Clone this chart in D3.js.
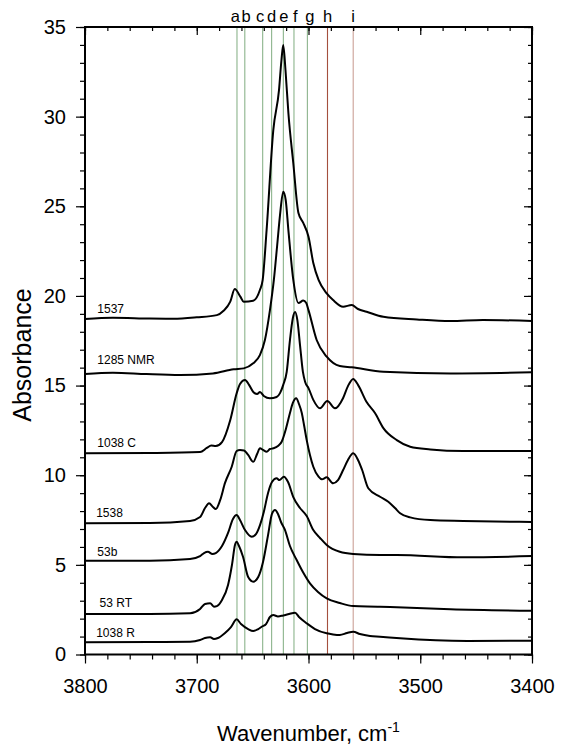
<!DOCTYPE html>
<html><head><meta charset="utf-8">
<script src="https://cdn.jsdelivr.net/npm/d3@7"></script>
<style>
body{margin:0;background:#fff}
svg{display:block}
text{font-family:"Liberation Sans",Arial,Helvetica,sans-serif;fill:#000}
</style>
</head><body>
<svg id="chart" width="568" height="750"></svg>
<script>
// ---------- DATA ----------
const sampleNames = ["1537", "1285 NMR", "1038 C", "1538", "53b", "53 RT", "1038 R"];
const labelWn = [3789, 3789, 3789, 3790, 3789, 3787, 3790];
const labelA  = [19.03, 16.2, 11.59, 7.69, 5.51, 2.67, 0.99];

const s1537 = [[3800,18.71],[3775,18.78],[3742,18.74],[3721,18.73],[3700,18.81],[3682,18.93],[3676,19.17],[3670,19.68],[3666,20.38],[3661,19.96],[3658,19.68],[3649.5,19.73],[3643.5,20.33],[3641,20.89],[3637.5,23.67],[3631.5,29.25],[3626.4,31.48],[3624.2,33.16],[3622.6,33.99],[3620.6,32.6],[3618,30.2],[3613.6,27.4],[3609,24.62],[3604.7,24.07],[3600,23.3],[3595.7,21.84],[3591,20.89],[3583.7,20.14],[3578,19.77],[3569,19.4],[3561.3,19.49],[3555.7,19.27],[3548,19.12],[3533,18.84],[3503,18.69],[3473,18.6],[3444,18.66],[3400,18.6]];

const s1285 = [[3800,15.64],[3775,15.72],[3745,15.64],[3715,15.59],[3685.5,15.68],[3667,15.91],[3658,15.96],[3649.5,16.24],[3643.5,16.7],[3639,17.54],[3634.5,19.21],[3631,20.89],[3628,22.84],[3625.5,24.51],[3622.6,25.81],[3620.4,25.35],[3618,23.67],[3613.6,20.89],[3609,19.6],[3604.7,19.74],[3602,19.6],[3600,19.21],[3592.7,17.54],[3583.7,16.61],[3572,16.09],[3561.3,16.02],[3533,15.77],[3473,15.68],[3400,15.74]];

const s1038C = [[3800,11.22],[3742,11.24],[3697,11.29],[3691,11.52],[3687,11.66],[3683,11.63],[3677.4,11.85],[3670,13.08],[3664.3,14.57],[3661.3,15.09],[3656.8,15.31],[3653.2,15.04],[3649.4,14.64],[3646,14.53],[3643.4,14.64],[3640,14.42],[3634.5,14.29],[3628.5,14.36],[3625.5,14.58],[3622.6,15.04],[3619.5,15.76],[3616.6,17.54],[3614,18.77],[3612,19.1],[3610,18.66],[3607.6,17.26],[3605,15.76],[3603,15.2],[3600,14.86],[3595.7,14.2],[3589.7,13.73],[3583.2,14.14],[3576.3,13.73],[3569,14.31],[3564.7,14.97],[3560,15.37],[3555.7,15.04],[3548,14.08],[3540.5,13.47],[3533,12.63],[3521,11.96],[3509,11.59],[3491,11.44],[3461.5,11.35],[3400,11.35]];

const s1538 = [[3800,7.32],[3742,7.33],[3706,7.45],[3697,7.67],[3692.6,8.17],[3689,8.43],[3685.5,8.23],[3683,8.11],[3679,8.62],[3674.7,9.57],[3668.7,10.47],[3664.3,11.35],[3661.3,11.41],[3657.7,11.38],[3654,11.13],[3649.4,10.75],[3646,11.18],[3643.4,11.5],[3640.7,11.41],[3637.4,11.31],[3634.5,11.46],[3631.5,11.5],[3627.3,11.63],[3624,11.87],[3620,12.63],[3616.6,13.47],[3614,14.03],[3611,14.29],[3608.5,13.97],[3606,13.47],[3604,12.8],[3601.6,11.96],[3598.7,11.13],[3595.7,10.47],[3591,9.92],[3588,9.77],[3583.7,9.88],[3578,9.55],[3573.6,9.73],[3569,10.29],[3564.7,10.85],[3560,11.22],[3555.7,10.85],[3552,10.29],[3546.5,9.27],[3536,8.8],[3528.6,8.52],[3522.6,8.17],[3518,7.88],[3509,7.65],[3491,7.5],[3461.5,7.45],[3400,7.39]];

const s53b = [[3800,5.23],[3742,5.23],[3706,5.33],[3697,5.49],[3693.5,5.66],[3690,5.73],[3686,5.61],[3683,5.66],[3677.4,6.05],[3672,6.78],[3667.6,7.56],[3664.3,7.78],[3661.3,7.5],[3656.8,6.94],[3650.8,6.57],[3647,6.72],[3643.4,7.22],[3640,7.95],[3636.2,9.01],[3632.7,9.62],[3628.5,9.83],[3626,9.73],[3622,9.92],[3618.3,9.62],[3613.6,8.78],[3607.6,8.17],[3601.6,7.72],[3595.7,6.94],[3589.7,6.5],[3583.7,6.11],[3572,5.73],[3560,5.61],[3536,5.55],[3521,5.55],[3461.5,5.42],[3400,5.49]];

const s53RT = [[3800,2.26],[3742,2.26],[3706,2.3],[3697,2.54],[3692.6,2.82],[3688,2.86],[3684.6,2.67],[3682,2.7],[3677.4,3.04],[3672,3.88],[3668.5,4.99],[3665.8,6.11],[3664.3,6.29],[3662.2,6.05],[3658.6,5.45],[3654,4.32],[3649.4,4.06],[3645,4.32],[3640.7,5.16],[3636.2,6.66],[3632.7,7.84],[3630,8.06],[3627.3,7.84],[3624.6,7.39],[3621,6.94],[3616.6,6.05],[3610.6,5.27],[3605,4.6],[3598.7,3.97],[3591.5,3.49],[3583.7,3.13],[3572,2.87],[3560,2.7],[3536,2.67],[3521,2.63],[3473,2.52],[3400,2.44]];

const s1038R = [[3800,0.68],[3742,0.7],[3706,0.71],[3697,0.81],[3692.6,0.92],[3688,0.96],[3684.6,0.86],[3681,0.92],[3674.7,1.2],[3669.4,1.53],[3664.3,1.96],[3660.4,1.7],[3654,1.42],[3649.5,1.31],[3645,1.42],[3641.6,1.56],[3638,1.7],[3634.5,2.09],[3631.5,2.2],[3627.3,2.12],[3622.6,2.18],[3617.4,2.26],[3612,2.33],[3608.5,2.09],[3601.6,1.74],[3594.2,1.42],[3583.7,1.18],[3578,1.12],[3572,1.09],[3565.5,1.2],[3560,1.27],[3554,1.14],[3545,1.03],[3536,0.99],[3518,0.9],[3458,0.75],[3400,0.77]];

const seriesList = [s1537, s1285, s1038C, s1538, s53b, s53RT, s1038R];

const markerWn = [3664, 3657, 3641, 3633, 3622.5, 3613, 3601, 3583, 3560];
const markerLabels = ["a", "b", "c", "d", "e", "f", "g", "h", "i"];
const markerGroup = ["g", "g", "g", "g", "g", "g", "g", "h", "i"];

const xMajorTicks = [3800, 3700, 3600, 3500, 3400];
const yMajorTicks = [0, 5, 10, 15, 20, 25, 30, 35];

// ---------- DRAW ----------
const markerColor = {g: "#8cb48c", h: "#a4503e", i: "#cba197"};
const markerLabelDx = [-1.6, 1.4, -2.5, 0, 0.6, 1.2, 2.5, 0, 0];
const svg = d3.select("#chart");
const L = 85, R = 532, T = 27, B = 654.5;
const x = d3.scaleLinear().domain([3800, 3400]).range([L, R]);
const y = d3.scaleLinear().domain([0, 35]).range([B, T]);

// marker lines
svg.append("g").selectAll("line").data(markerWn).join("line")
  .attr("x1", d => x(d)).attr("x2", d => x(d))
  .attr("y1", y(35)).attr("y2", y(0))
  .attr("stroke", (d, i) => markerColor[markerGroup[i]])
  .attr("stroke-width", 1.1);

svg.append("g").selectAll("text").data(markerLabels).join("text")
  .attr("x", (d, i) => x(markerWn[i]) + markerLabelDx[i])
  .attr("y", 21.5)
  .attr("text-anchor", "middle")
  .attr("font-size", 16.5)
  .text(d => d);

// spectra
const line = d3.line().x(d => x(d[0])).y(d => y(d[1])).curve(d3.curveMonotoneX);
svg.append("g").selectAll("path").data(seriesList).join("path")
  .attr("d", line)
  .attr("fill", "none")
  .attr("stroke", "#000")
  .attr("stroke-width", 2)
  .attr("stroke-linejoin", "round");

// curve labels
svg.append("g").selectAll("text").data(sampleNames).join("text")
  .attr("x", (d, i) => x(labelWn[i]))
  .attr("y", (d, i) => y(labelA[i]))
  .attr("font-size", 12)
  .text(d => d);

// axes
function styleAxis(g) {
  g.select(".domain").remove();
  g.selectAll(".tick line").attr("stroke", "#000").attr("stroke-width", 1.2);
  g.selectAll("text").attr("font-size", 20).attr("font-family", '"Liberation Sans",Arial,sans-serif');
}
const xMinor = d3.range(3800, 3399, -20);
const yMinor = d3.range(0, 35.5, 1);

svg.append("g").attr("transform", `translate(0,${B})`)
  .call(d3.axisBottom(x).tickValues(xMinor).tickSize(5).tickFormat(""))
  .call(styleAxis);
svg.append("g").attr("transform", `translate(0,${B})`)
  .call(d3.axisBottom(x).tickValues(xMajorTicks).tickSize(9).tickPadding(15).tickFormat(d3.format("d")))
  .call(styleAxis);

svg.append("g").attr("transform", `translate(0,${T})`)
  .call(d3.axisTop(x).tickValues(xMinor).tickSize(-4).tickFormat(""))
  .call(styleAxis);
svg.append("g").attr("transform", `translate(0,${T})`)
  .call(d3.axisTop(x).tickValues(xMajorTicks).tickSize(-8).tickFormat(""))
  .call(styleAxis);

svg.append("g").attr("transform", `translate(${L},0)`)
  .call(d3.axisLeft(y).tickValues(yMinor).tickSize(5).tickFormat(""))
  .call(styleAxis);
svg.append("g").attr("transform", `translate(${L},0)`)
  .call(d3.axisLeft(y).tickValues(yMajorTicks).tickSize(9).tickPadding(10).tickFormat(d3.format("d")))
  .call(styleAxis);

svg.append("g").attr("transform", `translate(${R},0)`)
  .call(d3.axisRight(y).tickValues(yMinor).tickSize(-4).tickFormat(""))
  .call(styleAxis);
svg.append("g").attr("transform", `translate(${R},0)`)
  .call(d3.axisRight(y).tickValues(yMajorTicks).tickSize(-8).tickFormat(""))
  .call(styleAxis);

// frame
svg.append("rect").attr("x", L).attr("y", T).attr("width", R - L).attr("height", B - T)
  .attr("fill", "none").attr("stroke", "#000").attr("stroke-width", 2);

// axis titles
const xt = svg.append("text").attr("x", (L + R) / 2).attr("y", 741)
  .attr("text-anchor", "middle").attr("font-size", 22);
xt.append("tspan").text("Wavenumber, cm");
xt.append("tspan").attr("font-size", 14).attr("dy", -9).text("-1");

svg.append("text")
  .attr("transform", "translate(31,355) rotate(-90)")
  .attr("text-anchor", "middle")
  .attr("font-size", 25)
  .text("Absorbance");
</script>
</body></html>
